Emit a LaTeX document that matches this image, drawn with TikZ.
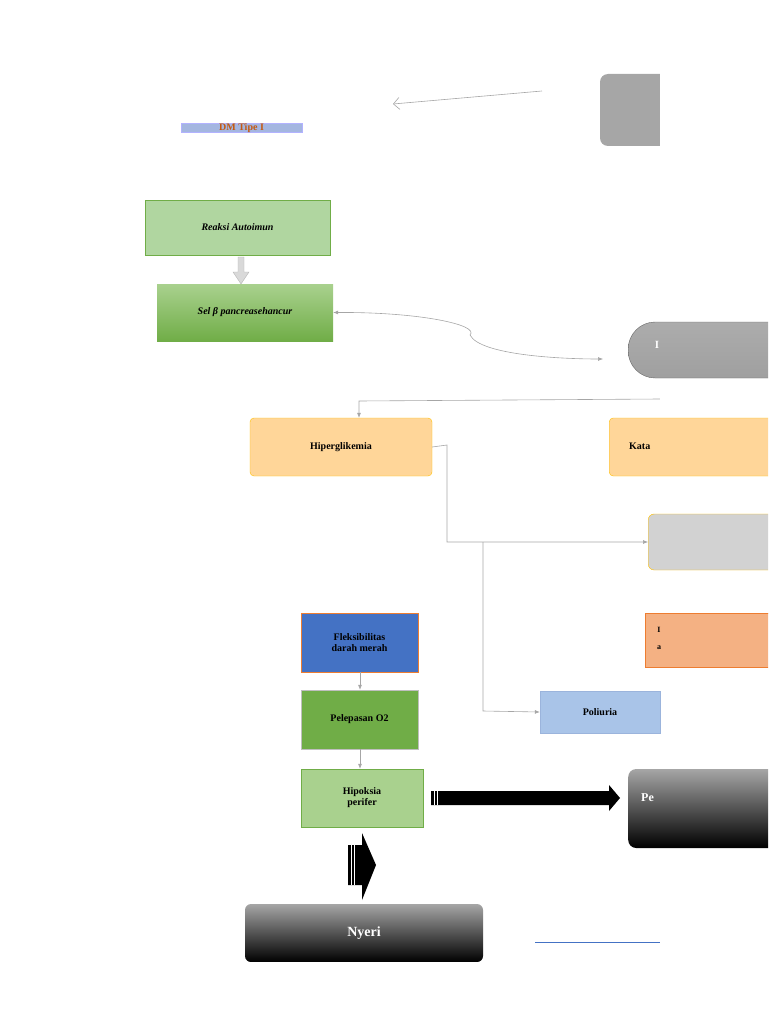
\documentclass[tikz,border=0pt]{standalone}
\usepackage{fontspec}
\setmainfont{Liberation Serif}
\usetikzlibrary{arrows.meta}
\definecolor{lineblue}{RGB}{68,114,196}
\begin{document}
\begin{tikzpicture}[x=1pt,y=-1pt,
 box/.style={draw,minimum height=#1,inner sep=0pt,font=\bfseries\fontsize{10}{11}\selectfont,align=center},
 thin/.style={draw=gray!70,line width=0.6pt,-{Latex[length=5pt,width=4pt]}},
 dark/.style={top color=gray!70,bottom color=black,draw=none,text=white,font=\bfseries}]
\useasboundingbox (0,0) rectangle (768,1024);
\begin{scope}
\clip (0,0) rectangle (768,1024);
% top gray block
\node[fill=gray!70,rounded corners=8pt,minimum width=90pt,minimum height=72pt] (g1) at (645,110) {};
\fill[white] (660,70) rectangle (768,150);
\coordinate (g1a) at (542,91);
\node[box,draw=blue!30,fill={rgb,255:red,164;green,182;blue,224},minimum width=121pt,text={rgb,255:red,197;green,90;blue,17}] (dm) at (241.5,128) {DM Tipe I};
\coordinate (dmt) at (393,104);
\draw[draw=gray!70,line width=0.6pt,-{Straight Barb[length=6pt]}] (g1a) -- (dmt);
\node[box,draw={rgb,255:red,112;green,173;blue,71},fill={rgb,255:red,176;green,214;blue,160},minimum width=185pt,minimum height=55pt,font=\bfseries\itshape\fontsize{10}{11}\selectfont] (ra) at (237.5,227.5) {Reaksi Autoimun};
\node[box,draw=none,top color={rgb,255:red,169;green,209;blue,142},bottom color={rgb,255:red,112;green,173;blue,71},minimum width=176pt,minimum height=57pt,font=\bfseries\itshape\fontsize{10}{11}\selectfont] (sel) at (245,312.5) {Sel β pancreasehancur};
\draw[draw=gray!60,fill=gray!30] (238,257)--(244,257)--(244,272)--(249,272)--(241,284)--(233,272)--(238,272)--cycle;
% dark pill
\node[dark,top color=gray!65,bottom color=gray!75,rounded corners=27pt,minimum width=200pt,minimum height=56pt,anchor=west,draw=black!60] (pill) at (628,350) {};
\node[text=white,font=\bfseries\fontsize{11}{12}\selectfont] at (657,345) {I};
\coordinate (pl) at (603,359);
\draw[draw=gray!70,line width=0.6pt,{Latex[length=5pt,width=4pt]}-{Latex[length=5pt,width=4pt]}] (sel.east) .. controls (420,312) and (480,325) .. (470,335) .. controls (480,355) and (560,359) .. (pl);
% hiperglikemia row
\node[box,draw={rgb,255:red,255;green,192;blue,0},fill={rgb,255:red,255;green,214;blue,153},rounded corners=4pt,minimum width=182pt,minimum height=58pt] (hip) at (341,447) {Hiperglikemia};
\node[box,draw={rgb,255:red,255;green,192;blue,0},fill={rgb,255:red,255;green,214;blue,153},rounded corners=4pt,minimum width=200pt,minimum height=58pt,anchor=west] (kat) at (609,447) {};
\node[font=\bfseries\fontsize{10}{11}\selectfont,anchor=west,inner sep=0pt] at (629,446) {Kata};
\coordinate (lr) at (660,399);
\draw[thin] (lr) -- (359,401) -- (hip.north-|359,0);
% gray box
\node[fill=gray!35,draw={rgb,255:red,255;green,192;blue,0},rounded corners=6pt,minimum width=150pt,minimum height=56pt,anchor=west] (gb) at (648,542) {};
\coordinate (j) at (483,542);
\draw[thin] (hip.east) -- (447,445) -- (447,542) -- (gb.west);
% salmon
\node[fill={rgb,255:red,244;green,177;blue,131},draw={rgb,255:red,237;green,125;blue,49},minimum width=150pt,minimum height=54pt,anchor=west] (sal) at (645,640) {};
\node[font=\bfseries\fontsize{8}{9}\selectfont,inner sep=0pt] at (659,630) {I};
\node[font=\bfseries\fontsize{8}{9}\selectfont,inner sep=0pt] at (659,648) {a};
\fill[white] (660,0) rectangle (768,320);
\fill[white] (660,380) rectangle (768,417);
% poliuria
\node[box,draw={rgb,255:red,155;green,180;blue,220},fill={rgb,255:red,169;green,196;blue,232},minimum width=120pt,minimum height=42pt] (pol) at (600,712) {Poliuria};
\draw[thin] (j) -- (483,711) -- (pol.west);
% left column
\node[box,draw={rgb,255:red,237;green,125;blue,49},fill={rgb,255:red,68;green,114;blue,196},minimum width=117pt,minimum height=59pt] (fl) at (359.5,642.5) {Fleksibilitas\\darah merah};
\node[box,draw=gray!50,fill={rgb,255:red,112;green,173;blue,71},minimum width=117pt,minimum height=59pt] (pel) at (359.5,719.5) {Pelepasan O2};
\node[box,draw={rgb,255:red,112;green,173;blue,71},fill={rgb,255:red,169;green,209;blue,142},minimum width=122pt,minimum height=58pt] (hpx) at (362,798) {Hipoksia\\perifer};
\draw[thin] (fl.south-|360,0) -- (pel.north-|360,0);
\draw[thin] (pel.south-|360,0) -- (hpx.north-|360,0);
% Pe box
\node[dark,rounded corners=8pt,minimum width=160pt,minimum height=79pt,anchor=west] (pe) at (628,808.5) {};
\node[text=white,font=\bfseries\fontsize{12}{13}\selectfont,anchor=west,inner sep=0pt] at (641,798) {Pe};
\fill[white] (660,575) rectangle (768,612);
% big arrow right
\fill[black] (431,791)--(609,791)--(609,785)--(620,798)--(609,811)--(609,805)--(431,805)--cycle;
\draw[white,line width=0.5pt] (434,791)--(434,805) (437,791)--(437,805);
% big arrow down
\node[dark,rounded corners=6pt,minimum width=238pt,minimum height=58pt] (ny) at (364,933) {\fontsize{14}{15}\selectfont Nyeri};
\fill[black] (348,845)--(362,845)--(362,833)--(376,865)--(362,900)--(362,885)--(348,885)--cycle;
\draw[white,line width=0.5pt] (351,845)--(351,885) (354,845)--(354,885);
\coordinate (bl1) at (535,942); \coordinate (bl2) at (660,942);
\draw[color=lineblue,line width=1pt] (bl1)--(bl2);
\fill[white] (0,962) rectangle (768,1024);
\end{scope}
\end{tikzpicture}
\end{document}
